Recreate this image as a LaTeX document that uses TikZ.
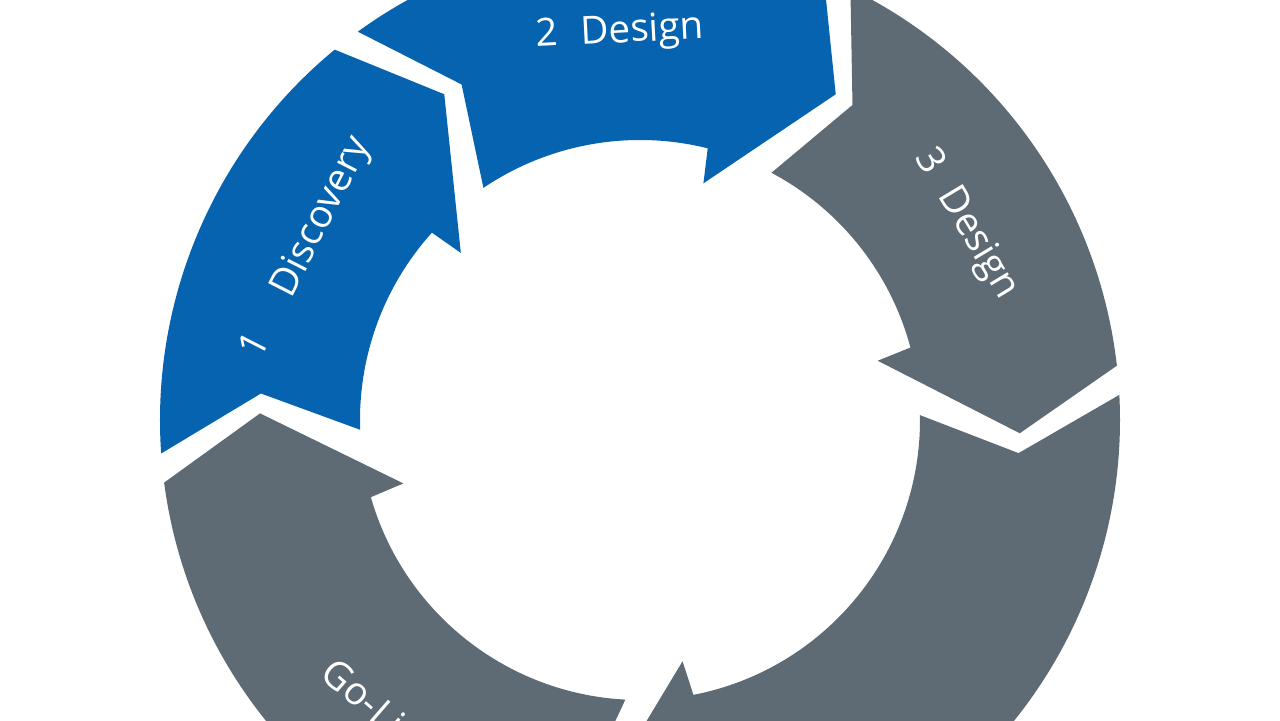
\documentclass[tikz,border=0pt]{standalone}
\usepackage{fontspec}
\setmainfont{Open Sans}
\definecolor{segblue}{HTML}{0563B0}
\definecolor{seggray}{HTML}{5E6B75}
\newcommand{\arcseg}[3]{%
  \fill[#1] (#2:9.6) arc[start angle=#2, end angle={#3+3.5}, radius=9.6]
    -- ({#3-5}:7.6) -- ({#3+11}:4.9) -- ({#3+12}:5.6)
    arc[start angle={#3+12}, end angle={#2-2}, radius=5.6]
    -- ({#2-8}:7.6) -- cycle;}
\begin{document}
\begin{tikzpicture}[lbl/.style={text=white,font=\fontsize{22}{26}\selectfont}]
\useasboundingbox (-12.8,-6) rectangle (12.8,8.4);
\clip (-12.8,-6) rectangle (12.8,8.4);
\arcseg{segblue}{184}{126}
\arcseg{segblue}{126}{64}
\arcseg{seggray}{64}{3}
\arcseg{seggray}{3}{-91}
\arcseg{seggray}{-91}{-176}
\node[lbl,rotate=63] (l1) at (152.7:7.5) {1\hspace{1.2em}Discovery};
\node[lbl,rotate=3] (l2) at (93:7.75) {2\hspace{0.6em}Design};
\node[lbl,rotate=-59] (l3) at (31:7.6) {3\hspace{0.6em}Design};
\node[lbl,rotate=-41] (l5) at (228:7.8) {Go-Live};
\end{tikzpicture}
\end{document}
